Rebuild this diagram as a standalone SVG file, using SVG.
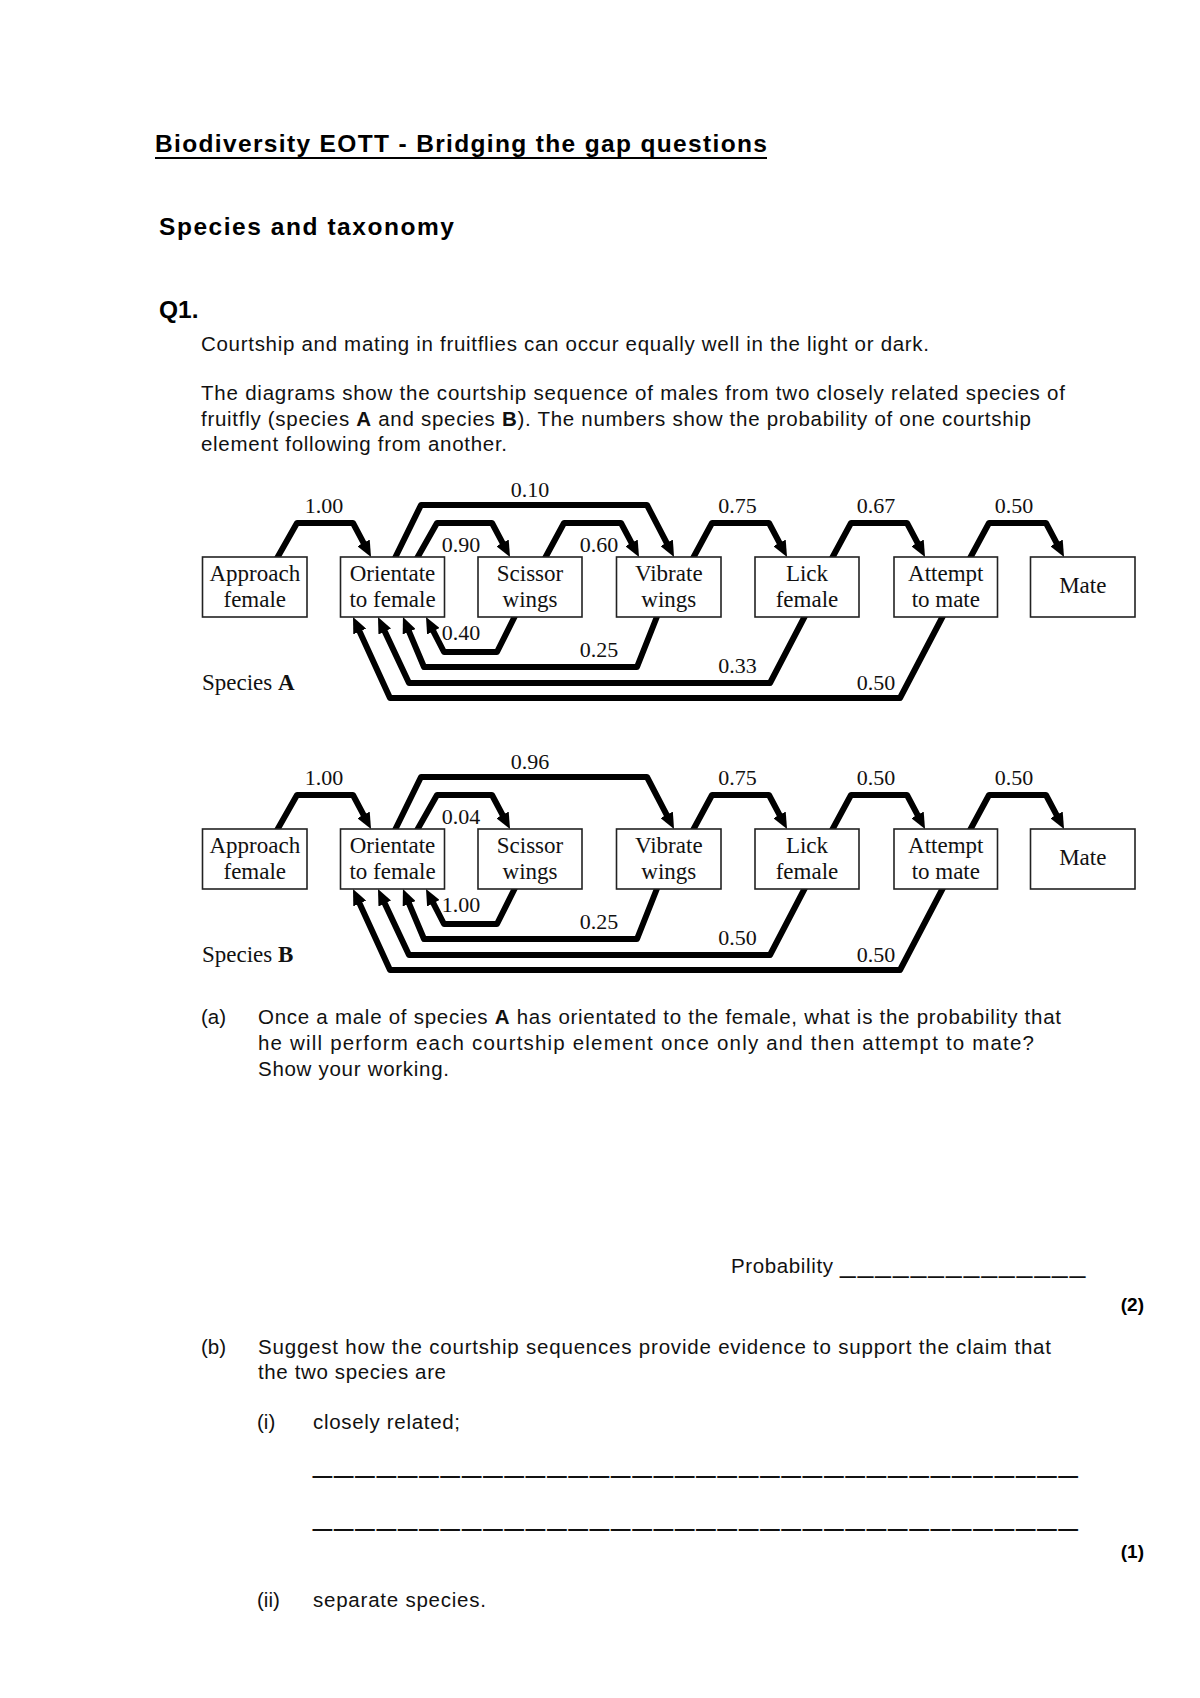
<svg xmlns="http://www.w3.org/2000/svg" width="1200" height="1698" viewBox="0 0 1200 1698">
<style>
.t{font-family:"Liberation Sans",Arial,sans-serif;font-size:20.5px;fill:#111}
.h{font-family:"Liberation Sans",Arial,sans-serif;font-size:24.5px;font-weight:bold;fill:#000}
.mk{font-family:"Liberation Sans",Arial,sans-serif;font-size:19px;font-weight:bold;fill:#000}
.us{font-family:"Liberation Sans",Arial,sans-serif;fill:#111}
.box{fill:#fff;stroke:#222;stroke-width:1.6}
.bt{font-family:"Liberation Serif","Times New Roman",serif;font-size:23px;fill:#111;text-anchor:middle}
.lb{font-family:"Liberation Serif","Times New Roman",serif;font-size:22px;fill:#111;text-anchor:middle}
.sp{font-family:"Liberation Serif","Times New Roman",serif;font-size:23px;fill:#111}
.ca{fill:none;stroke:#000;stroke-width:6;stroke-linejoin:round;stroke-linecap:butt;marker-end:url(#ah)}
</style>
<defs>
<marker id="ah" markerUnits="userSpaceOnUse" markerWidth="16" markerHeight="14" refX="4" refY="7" orient="auto">
<path d="M0,0 L16,7 L0,14 Z" fill="#000"/>
</marker>
</defs>
<rect width="1200" height="1698" fill="#fff"/>

<g id="header">
<text class="h" x="155" y="152" textLength="612">Biodiversity EOTT - Bridging the gap questions</text>
<line x1="155" y1="158" x2="767" y2="158" stroke="#000" stroke-width="2"/>
<text class="h" x="159" y="235" textLength="295">Species and taxonomy</text>
<text class="h" x="159" y="318">Q1.</text>
<text class="t" x="201" y="350.5" textLength="728">Courtship and mating in fruitflies can occur equally well in the light or dark.</text>
<text class="t" x="201" y="399.5" textLength="864">The diagrams show the courtship sequence of males from two closely related species of</text>
<text class="t" x="201" y="425.5" textLength="830">fruitfly (species <tspan font-weight="bold">A</tspan> and species <tspan font-weight="bold">B</tspan>). The numbers show the probability of one courtship</text>
<text class="t" x="201" y="451" textLength="306">element following from another.</text>
</g>

<!-- Species A diagram -->
<g id="diagramA">
<g id="connectorsA">
<path class="ca" d="M276,560 L297,523 L353,523 L365.4,546.4"/>
<path class="ca" d="M394,560 L421,505 L647,505 L668.5,546.4"/>
<path class="ca" d="M416,560 L437,523 L492,523 L504.4,546.4"/>
<path class="ca" d="M544,560 L564,523 L621,523 L633.4,546.4"/>
<path class="ca" d="M692,560 L712,523 L769,523 L781.4,546.4"/>
<path class="ca" d="M831,560 L851,523 L907,523 L919.4,546.4"/>
<path class="ca" d="M969,560 L989,523 L1046,523 L1058.4,546.4"/>
<path class="ca" d="M516,614 L497,652 L444,652 L431.5,627.7"/>
<path class="ca" d="M658,614 L637,667 L424,667 L407.6,628.1"/>
<path class="ca" d="M806,614 L770,683 L409,683 L383.1,627.9"/>
<path class="ca" d="M944,614 L900,698 L390,698 L358,627.9"/>
<text class="lb" x="324" y="513">1.00</text>
<text class="lb" x="530" y="497">0.10</text>
<text class="lb" x="461" y="552">0.90</text>
<text class="lb" x="599" y="552">0.60</text>
<text class="lb" x="737.5" y="513">0.75</text>
<text class="lb" x="876" y="513">0.67</text>
<text class="lb" x="1014" y="513">0.50</text>
<text class="lb" x="461" y="640">0.40</text>
<text class="lb" x="599" y="657">0.25</text>
<text class="lb" x="737.5" y="673">0.33</text>
<text class="lb" x="876" y="690">0.50</text>
</g>
<g id="A-approach"><rect class="box" x="202.5" y="557" width="104.5" height="60"/><text class="bt" x="254.8" y="581">Approach</text><text class="bt" x="254.8" y="607">female</text></g>
<g id="A-orientate"><rect class="box" x="340.5" y="557" width="104" height="60"/><text class="bt" x="392.5" y="581">Orientate</text><text class="bt" x="392.5" y="607">to female</text></g>
<g id="A-scissor"><rect class="box" x="478" y="557" width="104" height="60"/><text class="bt" x="530" y="581">Scissor</text><text class="bt" x="530" y="607">wings</text></g>
<g id="A-vibrate"><rect class="box" x="616.5" y="557" width="104.5" height="60"/><text class="bt" x="668.8" y="581">Vibrate</text><text class="bt" x="668.8" y="607">wings</text></g>
<g id="A-lick"><rect class="box" x="755" y="557" width="104" height="60"/><text class="bt" x="807" y="581">Lick</text><text class="bt" x="807" y="607">female</text></g>
<g id="A-attempt"><rect class="box" x="894" y="557" width="103.5" height="60"/><text class="bt" x="945.8" y="581">Attempt</text><text class="bt" x="945.8" y="607">to mate</text></g>
<g id="A-mate"><rect class="box" x="1030.5" y="557" width="104.5" height="60"/><text class="bt" x="1082.8" y="593">Mate</text></g>
<text class="sp" x="202" y="690">Species <tspan font-weight="bold">A</tspan></text>
</g>

<!-- Species B diagram -->
<g id="diagramB" transform="translate(0,272)">
<g id="connectorsB">
<path class="ca" d="M276,560 L297,523 L353,523 L365.4,546.4"/>
<path class="ca" d="M394,560 L421,505 L647,505 L668.5,546.4"/>
<path class="ca" d="M416,560 L437,523 L492,523 L504.4,546.4"/>
<path class="ca" d="M692,560 L712,523 L769,523 L781.4,546.4"/>
<path class="ca" d="M831,560 L851,523 L907,523 L919.4,546.4"/>
<path class="ca" d="M969,560 L989,523 L1046,523 L1058.4,546.4"/>
<path class="ca" d="M516,614 L497,652 L444,652 L431.5,627.7"/>
<path class="ca" d="M658,614 L637,667 L424,667 L407.6,628.1"/>
<path class="ca" d="M806,614 L770,683 L409,683 L383.1,627.9"/>
<path class="ca" d="M944,614 L900,698 L390,698 L358,627.9"/>
<text class="lb" x="324" y="513">1.00</text>
<text class="lb" x="530" y="497">0.96</text>
<text class="lb" x="461" y="552">0.04</text>
<text class="lb" x="737.5" y="513">0.75</text>
<text class="lb" x="876" y="513">0.50</text>
<text class="lb" x="1014" y="513">0.50</text>
<text class="lb" x="461" y="640">1.00</text>
<text class="lb" x="599" y="657">0.25</text>
<text class="lb" x="737.5" y="673">0.50</text>
<text class="lb" x="876" y="690">0.50</text>
</g>
<g id="B-approach"><rect class="box" x="202.5" y="557" width="104.5" height="60"/><text class="bt" x="254.8" y="581">Approach</text><text class="bt" x="254.8" y="607">female</text></g>
<g id="B-orientate"><rect class="box" x="340.5" y="557" width="104" height="60"/><text class="bt" x="392.5" y="581">Orientate</text><text class="bt" x="392.5" y="607">to female</text></g>
<g id="B-scissor"><rect class="box" x="478" y="557" width="104" height="60"/><text class="bt" x="530" y="581">Scissor</text><text class="bt" x="530" y="607">wings</text></g>
<g id="B-vibrate"><rect class="box" x="616.5" y="557" width="104.5" height="60"/><text class="bt" x="668.8" y="581">Vibrate</text><text class="bt" x="668.8" y="607">wings</text></g>
<g id="B-lick"><rect class="box" x="755" y="557" width="104" height="60"/><text class="bt" x="807" y="581">Lick</text><text class="bt" x="807" y="607">female</text></g>
<g id="B-attempt"><rect class="box" x="894" y="557" width="103.5" height="60"/><text class="bt" x="945.8" y="581">Attempt</text><text class="bt" x="945.8" y="607">to mate</text></g>
<g id="B-mate"><rect class="box" x="1030.5" y="557" width="104.5" height="60"/><text class="bt" x="1082.8" y="593">Mate</text></g>
<text class="sp" x="202" y="690">Species <tspan font-weight="bold">B</tspan></text>
</g>

<g id="questions">
<text class="t" x="201" y="1023.5">(a)</text>
<text class="t" x="258" y="1023.5" textLength="803">Once a male of species <tspan font-weight="bold">A</tspan> has orientated to the female, what is the probability that</text>
<text class="t" x="258" y="1049.5" textLength="776">he will perform each courtship element once only and then attempt to mate?</text>
<text class="t" x="258" y="1075.5" textLength="191">Show your working.</text>
<text class="t" x="731" y="1273" textLength="102">Probability</text>
<text class="us" x="840" y="1272" font-size="28" letter-spacing="2.1">______________</text>
<text class="mk" x="1144" y="1311" text-anchor="end">(2)</text>
<text class="t" x="201" y="1353.5">(b)</text>
<text class="t" x="258" y="1353.5" textLength="793">Suggest how the courtship sequences provide evidence to support the claim that</text>
<text class="t" x="258" y="1379" textLength="188">the two species are</text>
<text class="t" x="257" y="1428.5">(i)</text>
<text class="t" x="313" y="1428.5" textLength="147">closely related;</text>
<text class="us" x="313" y="1471" font-size="34" letter-spacing="2.4">____________________________________</text>
<text class="us" x="313" y="1524" font-size="34" letter-spacing="2.4">____________________________________</text>
<text class="mk" x="1144" y="1558" text-anchor="end">(1)</text>
<text class="t" x="257" y="1607">(ii)</text>
<text class="t" x="313" y="1607" textLength="173">separate species.</text>
</g>
</svg>
